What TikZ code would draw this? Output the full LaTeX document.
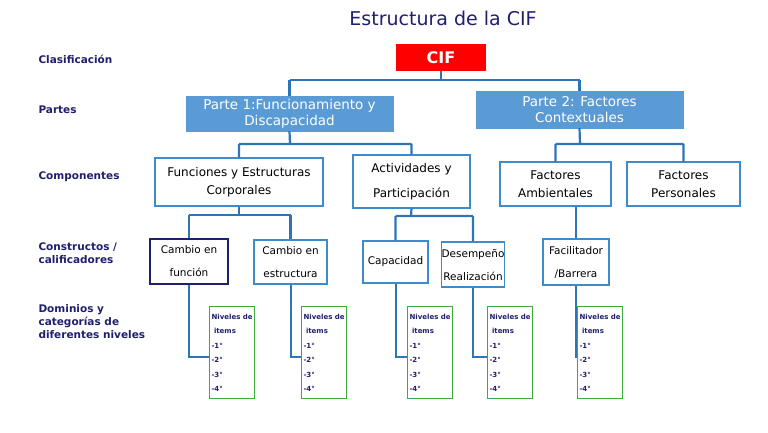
\documentclass[tikz,border=0pt]{standalone}
\usepackage{fontspec}
\setmainfont{DejaVu Sans}
\begin{document}
\begin{tikzpicture}[x=1pt,y=-1pt,
  lab/.style={font=\fontsize{10.5}{13}\selectfont\bfseries,text=navy,anchor=west,align=left},
  part/.style={draw=partb,fill=partb,text=white,font=\fontsize{13.5}{16}\selectfont,align=center,inner sep=0},
  comp/.style={draw=compb,line width=1.2pt,fill=white,font=\fontsize{12}{18}\selectfont,align=center,inner sep=0},
  lvl/.style={draw=lvlg,line width=1.2pt,font=\fontsize{7}{14.5}\selectfont\bfseries,text=navy,align=left,inner sep=1.5pt,anchor=north west},
  con/.style={draw=conb,line width=2.2pt}]
\definecolor{navy}{HTML}{1F1F6E}
\definecolor{partb}{HTML}{5B9BD5}
\definecolor{compb}{HTML}{3E8ACB}
\definecolor{lvlg}{HTML}{3DAA3D}
\definecolor{conb}{HTML}{2E75B6}
\useasboundingbox (0,0) rectangle (768,433);
\node[font=\fontsize{19}{22}\selectfont,text=navy] (title) at (443,18) {Estructura de la CIF};
\node[lab] (l1) at (35,59) {Clasificación};
\node[lab] (l2) at (35,110) {Partes};
\node[lab] (l3) at (35,177) {Componentes};
\node[lab] (l4) at (35,253) {Constructos /\\calificadores};
\node[lab] (l5) at (35,322) {Dominios y\\categorías de\\diferentes niveles};
% boxes
\node[fill=red,text=white,font=\fontsize{16}{18}\selectfont\bfseries,minimum width=90pt,minimum height=27pt] (cif) at (441,57.5) {CIF};
\node[part,minimum width=207pt,minimum height=35pt] (p1) at (289.5,113.5) {Parte 1:Funcionamiento y\\Discapacidad};
\node[part,minimum width=207pt,minimum height=37pt] (p2) at (579.5,109.5) {Parte 2: Factores\\Contextuales};
\node[comp,minimum width=168pt,minimum height=48pt] (c1) at (239,182) {Funciones y Estructuras\\Corporales};
\node[comp,minimum width=117pt,minimum height=53pt,font=\fontsize{12}{25}\selectfont] (c2) at (411.5,181.5) {Actividades y\\Participación};
\node[comp,minimum width=111pt,minimum height=44pt] (c3) at (555.5,184) {Factores\\Ambientales};
\node[comp,minimum width=113pt,minimum height=44pt] (c4) at (683.5,184) {Factores\\Personales};
\node[comp,draw=navy,minimum width=78pt,minimum height=45pt,font=\fontsize{10.5}{23}\selectfont] (k1) at (189,261.5) {Cambio en\\función};
\node[comp,minimum width=73pt,minimum height=44pt,font=\fontsize{10.5}{23}\selectfont] (k2) at (290.5,262) {Cambio en\\estructura};
\node[comp,minimum width=65pt,minimum height=42pt,font=\fontsize{10.5}{23}\selectfont] (k3) at (395.5,262) {Capacidad};
\node[comp,minimum width=56pt,minimum height=45pt,font=\fontsize{10.5}{23}\selectfont] (k4) at (473,264.5) {Desempeño\\Realización};
\node[comp,minimum width=66pt,minimum height=46pt,font=\fontsize{10.5}{23}\selectfont] (k5) at (576,262) {Facilitador\\/Barrera};
\foreach \n/\x in {n1/209,n2/301,n3/407,n4/487,n5/577}
  \node[lvl,minimum width=45pt,minimum height=92pt] (\n) at (\x,306) {Niveles de\\\ items\\-1°\\-2°\\-3°\\-4°};
% connectors
\coordinate (j0) at (441,80);
\draw[con] (cif.south) -- (j0) (p1.north|-j0) -- (p2.north|-j0) (p1.north|-j0) -- (p1.north) (p2.north|-j0) -- (p2.north);
\coordinate (j1) at (290,144);
\draw[con] (p1.south) -- (j1) (c1.north|-j1) -- (c2.north|-j1) (c1.north|-j1) -- (c1.north) (c2.north|-j1) -- (c2.north);
\coordinate (j2) at (580,144);
\draw[con] (p2.south) -- (j2) (c3.north|-j2) -- (c4.north|-j2) (c3.north|-j2) -- (c3.north) (c4.north|-j2) -- (c4.north);
\coordinate (j3) at (239,215);
\draw[con] (c1.south) -- (j3) (k1.north|-j3) -- (k2.north|-j3) (k1.north|-j3) -- (k1.north) (k2.north|-j3) -- (k2.north);
\coordinate (j4) at (411,216);
\draw[con] (c2.south) -- (j4) (k3.north|-j4) -- (k4.north|-j4) (k3.north|-j4) -- (k3.north) (k4.north|-j4) -- (k4.north);
\draw[con] (c3.south-|k5.north) -- (k5.north);
\foreach \k/\n in {k1/n1,k2/n2,k3/n3,k4/n4,k5/n5}
  \draw[con,line width=2pt] (\k.south) -- (\k.south|-{0,357}) -- (\n.west|-{0,357});
\end{tikzpicture}
\end{document}
